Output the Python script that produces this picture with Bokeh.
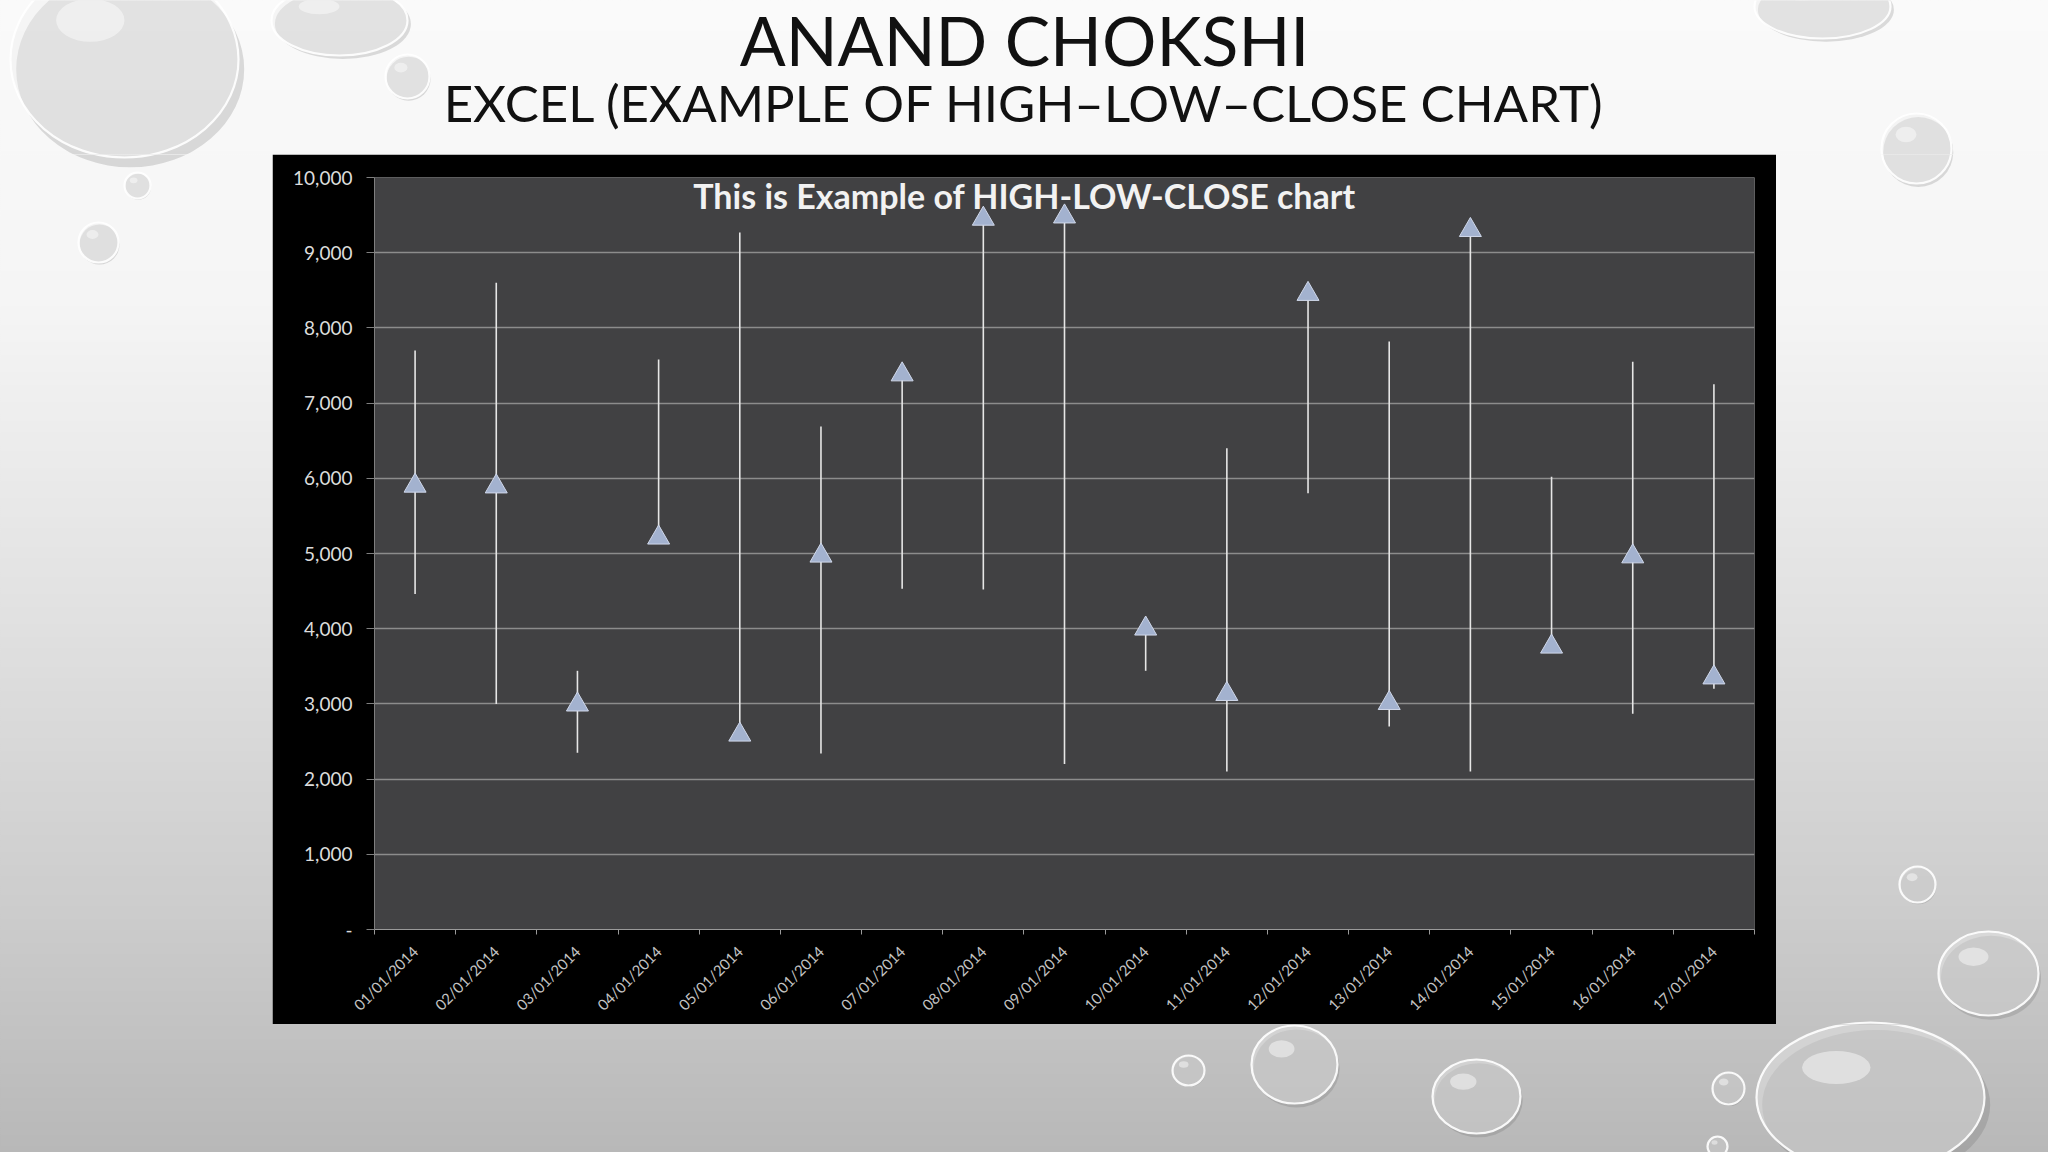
from math import pi
from bokeh.plotting import figure
from bokeh.layouts import column, row
from bokeh.models import (ColumnDataSource, Range1d, LinearAxis,
                          FixedTicker, NumeralTickFormatter, Label)
from bokeh.core.properties import value
from bokeh.embed import file_html
from bokeh.resources import INLINE

# ---------------- data ----------------
dates = ["01/01/2014", "02/01/2014", "03/01/2014", "04/01/2014", "05/01/2014", "06/01/2014",
         "07/01/2014", "08/01/2014", "09/01/2014", "10/01/2014", "11/01/2014", "12/01/2014",
         "13/01/2014", "14/01/2014", "15/01/2014", "16/01/2014", "17/01/2014"]
high = [7700, 8600, 3440, 7580, 9270, 6690, 7380, 9450, 9480, 4000, 6400, 8450, 7820, 9300, 6020, 7550, 7250]
low = [4460, 3000, 2350, 5200, 2580, 2340, 4530, 4520, 2200, 3440, 2100, 5800, 2700, 2100, 3760, 2870, 3200]
close = [5900, 5890, 2990, 5210, 2590, 4970, 7380, 9450, 9480, 4000, 3130, 8450, 3010, 9300, 3760, 4960, 3350]
y_ticks = [0, 1000, 2000, 3000, 4000, 5000, 6000, 7000, 8000, 9000, 10000]

slide_title = "ANAND CHOKSHI"
slide_subtitle = "EXCEL (EXAMPLE OF HIGH\u2013LOW\u2013CLOSE CHART)"
chart_title = "This is Example of HIGH-LOW-CLOSE chart"

# ---------------- page geometry (slide pixels) ----------------
PX0, PY0, PX1, PY1 = 0, 0, 2048, 1152          # visible page area
CL, CR, CT, CB = 272, 1776, 154, 1024          # black chart block
FL, FR, FT, FB = 374, 1754, 177, 929           # plot frame inside the block


def plain(f):
    if "frame_align" in f.properties():
        f.frame_align = False
    f.title = None
    return f


# ---------------- chart ----------------
n = len(dates)
centers = [i + 0.5 for i in range(n)]
bounds = list(range(n + 1))
source = ColumnDataSource(data=dict(x=centers, date=dates, high=high, low=low, close=close))

chart = figure(x_range=Range1d(0, n), y_range=Range1d(0, 10000),
               width=CR - CL, height=CB - CT, output_backend="svg", toolbar_location=None,
               x_axis_location=None, y_axis_location="left",
               min_border_left=FL - CL, min_border_right=CR - FR,
               min_border_top=FT - CT, min_border_bottom=CB - FB)
plain(chart)
chart.border_fill_color = "black"
chart.background_fill_color = "#414143"
chart.outline_line_color = None
chart.xgrid.visible = False
chart.ygrid.ticker = FixedTicker(ticks=y_ticks)
chart.ygrid.grid_line_color = "#8c8c8c"
chart.ygrid.grid_line_width = 1.5

ya = chart.yaxis[0]
ya.ticker = FixedTicker(ticks=y_ticks)
ya.formatter = NumeralTickFormatter(format="0,0")
ya.major_label_overrides = {0: "-"}
ya.axis_line_color = "#7f7f7f"
ya.major_tick_line_color = "#7f7f7f"
ya.major_tick_in = 0
ya.major_tick_out = 8
ya.minor_tick_line_color = None
ya.major_label_standoff = 14
ya.major_label_text_color = "#dcdcdc"
ya.major_label_text_font = "Lato"
ya.major_label_text_font_size = "19px"

tick_axis = LinearAxis(ticker=FixedTicker(ticks=bounds),
                       axis_line_color="#9a9a9a", major_tick_line_color="#9a9a9a",
                       major_tick_in=0, major_tick_out=5, minor_tick_line_color=None,
                       major_label_text_color=None, major_label_text_font_size="1px",
                       major_label_standoff=0)
chart.add_layout(tick_axis, "below")
label_axis = LinearAxis(ticker=FixedTicker(ticks=centers),
                        major_label_overrides={c: d for c, d in zip(centers, dates)},
                        major_tick_line_color=None, axis_line_color=None, minor_tick_line_color=None,
                        major_label_orientation=pi / 4, major_label_standoff=8,
                        major_label_text_color="#c4c4c4", major_label_text_font="Lato",
                        major_label_text_font_size="15px")
chart.add_layout(label_axis, "below")

chart.add_layout(Label(x=(CR - CL) / 2, y=41, x_units="canvas", y_units="canvas",
                       text=chart_title, text_align="center", text_baseline="alphabetic",
                       text_font="Lato", text_font_style="bold", text_font_size="34px",
                       text_color="#f2f2f2", level="underlay"))

chart.segment(x0="x", y0="low", x1="x", y1="high", source=source,
              line_color="#e6e6e6", line_width=1.6)
chart.scatter(x="x", y="close", source=source, marker="triangle", size=22,
              fill_color="#a3b2cf", line_color="#d0d8ea", line_width=1)

# ---------------- slide decoration (drawn in slide pixel coordinates) ----------------
grad_stops = [(0, 250), (300, 245), (600, 226), (900, 205), (1152, 184)]


def grey(y):
    for (y0, c0), (y1, c1) in zip(grad_stops[:-1], grad_stops[1:]):
        if y0 <= y <= y1:
            c = c0 + (c1 - c0) * (y - y0) / (y1 - y0)
            break
    else:
        c = grad_stops[-1][1]
    c = int(round(c))
    return "#%02x%02x%02x" % (c, c, c)

band_top = list(range(0, 1152, 6))
band_bot = [t + 6.5 for t in band_top]
band_col = [grey(t + 3) for t in band_top]

# water drops: centre x, centre y, half width, half height
drop_x = [124, 339, 407, 137, 98, 1822, 1916, 1917, 1988, 1870, 1728, 1717, 1294, 1188, 1476]
drop_y = [59, 20, 76, 185, 242, 6, 148, 884, 973, 1097, 1088, 1146, 1064, 1070, 1096]
drop_rx = [114, 68, 22, 13, 20, 68, 35, 18, 50, 114, 16, 10, 43, 16, 44]
drop_ry = [98, 35, 22, 13, 20, 32, 35, 18, 42, 75, 16, 10, 39, 15, 37]


def deco(x0, x1, y0, y1, fill_y):
    f = figure(width=x1 - x0, height=y1 - y0, x_range=Range1d(x0, x1), y_range=Range1d(y1, y0),
               output_backend="svg", toolbar_location=None, min_border=0,
               x_axis_location=None, y_axis_location=None)
    plain(f)
    f.outline_line_color = None
    f.border_fill_color = grey(fill_y)
    f.background_fill_color = None
    f.grid.visible = False
    f.quad(left=0, right=2048, top=band_top, bottom=band_bot, fill_color=band_col, line_color=None)
    w = [2 * r for r in drop_rx]
    h = [2 * r for r in drop_ry]
    f.ellipse(x=[x + 0.05 * r for x, r in zip(drop_x, drop_rx)],
              y=[y + 0.10 * r for y, r in zip(drop_y, drop_ry)],
              width=w, height=h, fill_color="#5a5a5a", fill_alpha=0.2, line_color=None)
    f.ellipse(x=drop_x, y=drop_y, width=w, height=h, fill_color="#eeeeee", fill_alpha=0.4,
              line_color="#ffffff", line_alpha=0.9, line_width=2.2)
    f.ellipse(x=[x - 0.3 * r for x, r in zip(drop_x, drop_rx)],
              y=[y - 0.4 * r for y, r in zip(drop_y, drop_ry)],
              width=[0.3 * v for v in w], height=[0.22 * v for v in h],
              fill_color="#ffffff", fill_alpha=0.45, line_color=None)
    return f


header = deco(PX0, PX1, PY0, CT, 80)
header.text(x=[1024], y=[39], text=[slide_title], text_align="center", text_baseline="alphabetic",
            text_font=value("Lato"), text_font_size="68px", text_color="#111111")
header.text(x=[1024], y=[102], text=[slide_subtitle], text_align="center", text_baseline="alphabetic",
            text_font=value("Lato"), text_font_size="51px", text_color="#111111")
left = deco(PX0, CL, CT, CB, 990)
right = deco(CR, PX1, CT, CB, 990)
footer = deco(PX0, PX1, CB, PY1, 1090)

page = column(header, row(left, chart, right, spacing=0), footer, spacing=0)
css_stops = ", ".join("%s %dpx" % (grey(y), y) for y, _ in grad_stops)
page.styles = {"background": "linear-gradient(to bottom, %s)" % css_stops}

open("out.html", "w").write(file_html(page, INLINE))
